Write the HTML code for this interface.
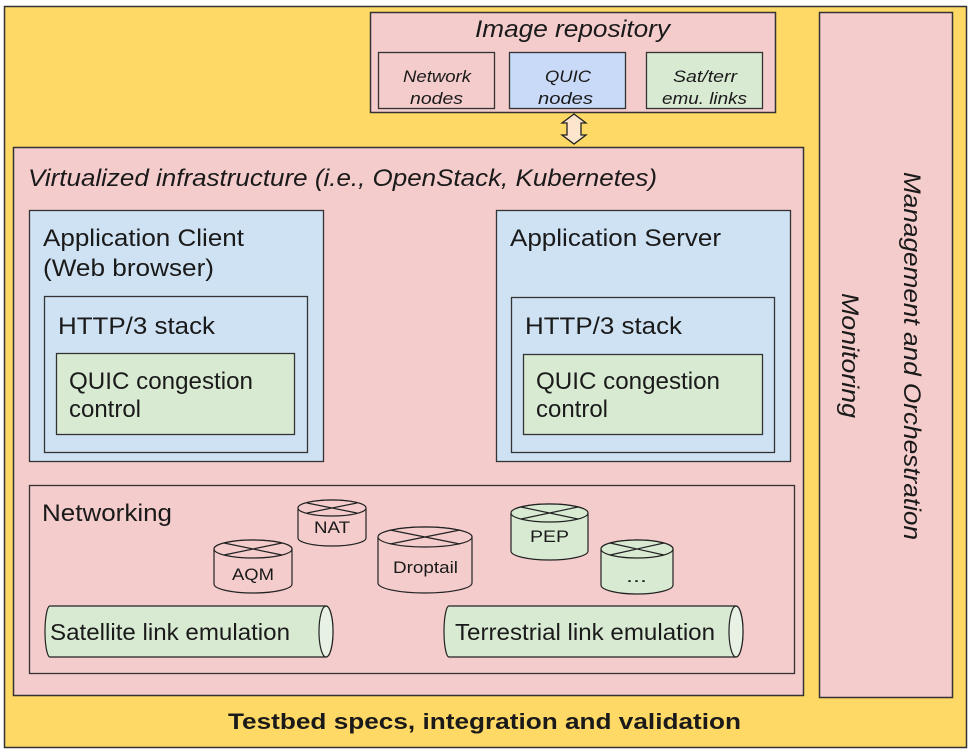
<!DOCTYPE html>
<html><head><meta charset="utf-8"><style>
html,body{margin:0;padding:0;background:#fff;}
svg{display:block;}
text{font-family:"Liberation Sans",Arial,sans-serif;fill:#1a1a1a;}
</style></head><body>
<svg width="970" height="750" viewBox="0 0 970 750" xmlns="http://www.w3.org/2000/svg">
<rect x="0" y="0" width="970" height="750" fill="#fff"/>
<rect x="4.5" y="6.5" width="962" height="741" fill="#ffd966" stroke="#333" stroke-width="1.5"/>
<!-- Management -->
<rect x="819.5" y="12.5" width="133" height="685" fill="#f4cccc" stroke="#333" stroke-width="1.5"/>
<text transform="translate(904,172) rotate(90)" font-size="24" font-style="italic" textLength="368" lengthAdjust="spacingAndGlyphs">Management and Orchestration</text>
<text transform="translate(842,293) rotate(90)" font-size="24" font-style="italic" textLength="125" lengthAdjust="spacingAndGlyphs">Monitoring</text>
<!-- Image repo -->
<rect x="370.5" y="12.5" width="405" height="100" fill="#f4cccc" stroke="#333" stroke-width="1.5"/>
<text x="475" y="37" font-size="24" font-style="italic" textLength="195" lengthAdjust="spacingAndGlyphs">Image repository</text>
<rect x="378.5" y="52.5" width="116" height="56" fill="#f4cccc" stroke="#333" stroke-width="1.3"/>
<rect x="509.5" y="52.5" width="116" height="56" fill="#c9daf8" stroke="#333" stroke-width="1.3"/>
<rect x="646.5" y="52.5" width="116" height="56" fill="#d9ead3" stroke="#333" stroke-width="1.3"/>
<g font-size="17" font-style="italic">
<text x="403" y="82" textLength="68" lengthAdjust="spacingAndGlyphs">Network</text><text x="410" y="104" textLength="53" lengthAdjust="spacingAndGlyphs">nodes</text>
<text x="545" y="82" textLength="46" lengthAdjust="spacingAndGlyphs">QUIC</text><text x="538" y="104" textLength="55" lengthAdjust="spacingAndGlyphs">nodes</text>
<text x="673" y="82" textLength="64" lengthAdjust="spacingAndGlyphs">Sat/terr</text><text x="662" y="104" textLength="85" lengthAdjust="spacingAndGlyphs">emu. links</text>
</g>
<path d="M574,114 L586,123 L581,123 L581,135 L586,135 L574,144 L562,135 L567,135 L567,123 L562,123 Z" fill="#fce5cd" stroke="#222" stroke-width="1.3"/>
<!-- Virtualized -->
<rect x="13.5" y="147.5" width="790" height="548" fill="#f4cccc" stroke="#333" stroke-width="1.5"/>
<text x="28" y="186" font-size="24" font-style="italic" textLength="629" lengthAdjust="spacingAndGlyphs">Virtualized infrastructure (i.e., OpenStack, Kubernetes)</text>
<!-- Client -->
<rect x="29.5" y="210.5" width="294" height="251" fill="#cfe2f3" stroke="#333" stroke-width="1.3"/>
<g font-size="24">
<text x="43" y="246" textLength="201" lengthAdjust="spacingAndGlyphs">Application Client</text>
<text x="43" y="276" textLength="171" lengthAdjust="spacingAndGlyphs">(Web browser)</text>
</g>
<rect x="44.5" y="296.5" width="263" height="156" fill="#cfe2f3" stroke="#333" stroke-width="1.3"/>
<rect x="56.5" y="353.5" width="238" height="81" fill="#d9ead3" stroke="#333" stroke-width="1.3"/>
<g font-size="24">
<text x="58" y="334" textLength="157" lengthAdjust="spacingAndGlyphs">HTTP/3 stack</text>
<text x="69" y="389" textLength="184" lengthAdjust="spacingAndGlyphs">QUIC congestion</text>
<text x="69" y="417" textLength="72" lengthAdjust="spacingAndGlyphs">control</text>
</g>
<!-- Server -->
<rect x="496.5" y="210.5" width="294" height="251" fill="#cfe2f3" stroke="#333" stroke-width="1.3"/>
<rect x="511.5" y="297.5" width="263" height="155" fill="#cfe2f3" stroke="#333" stroke-width="1.3"/>
<rect x="523.5" y="354.5" width="239" height="80" fill="#d9ead3" stroke="#333" stroke-width="1.3"/>
<g font-size="24">
<text x="510" y="246" textLength="211" lengthAdjust="spacingAndGlyphs">Application Server</text>
<text x="525" y="334" textLength="157" lengthAdjust="spacingAndGlyphs">HTTP/3 stack</text>
<text x="536" y="389" textLength="184" lengthAdjust="spacingAndGlyphs">QUIC congestion</text>
<text x="536" y="417" textLength="72" lengthAdjust="spacingAndGlyphs">control</text>
</g>
<!-- Networking -->
<rect x="29.5" y="485.5" width="765" height="188" fill="#f4cccc" stroke="#333" stroke-width="1.3"/>
<text x="42" y="521" font-size="24" textLength="130" lengthAdjust="spacingAndGlyphs">Networking</text>
<g stroke="#222" stroke-width="1.2">
<path d="M214,549 A39,9 0 0 1 292,549 V584 A39,9 0 0 1 214,584 Z" fill="#f4cccc"/>
<ellipse cx="253" cy="549" rx="39" ry="9" fill="#f4cccc"/>
<path d="M224,543 L282,555 M224,555 L282,543" fill="none"/>
<path d="M298,508 A34,8 0 0 1 366,508 V538 A34,8 0 0 1 298,538 Z" fill="#f4cccc"/>
<ellipse cx="332" cy="508" rx="34" ry="8" fill="#f4cccc"/>
<path d="M307,503 L357,513 M307,513 L357,503" fill="none"/>
<path d="M378,537 A47,10 0 0 1 472,537 V583 A47,10 0 0 1 378,583 Z" fill="#f4cccc"/>
<ellipse cx="425" cy="537" rx="47" ry="10" fill="#f4cccc"/>
<path d="M390,530 L460,544 M390,544 L460,530" fill="none"/>
<path d="M511,513 A38.5,9 0 0 1 588,513 V551 A38.5,9 0 0 1 511,551 Z" fill="#d9ead3"/>
<ellipse cx="549.5" cy="513" rx="38.5" ry="9" fill="#d9ead3"/>
<path d="M521,507 L578,519 M521,519 L578,507" fill="none"/>
<path d="M601,549 A36,9 0 0 1 673,549 V585 A36,9 0 0 1 601,585 Z" fill="#d9ead3"/>
<ellipse cx="637" cy="549" rx="36" ry="9" fill="#d9ead3"/>
<path d="M610,543 L664,555 M610,555 L664,543" fill="none"/>
<path d="M50,606 L326,606 A7,25.5 0 0 1 326,657 L50,657 A5,25.5 0 0 1 50,606 Z" fill="#d9ead3"/>
<ellipse cx="326" cy="631.5" rx="7" ry="25.5" fill="#e8f2e4"/>
<path d="M449,606 L736,606 A7,25.5 0 0 1 736,657 L449,657 A5,25.5 0 0 1 449,606 Z" fill="#d9ead3"/>
<ellipse cx="736" cy="631.5" rx="7" ry="25.5" fill="#e8f2e4"/>
</g>
<g font-size="17">
<text x="232" y="580" textLength="42" lengthAdjust="spacingAndGlyphs">AQM</text>
<text x="314" y="533" textLength="36" lengthAdjust="spacingAndGlyphs">NAT</text>
<text x="393" y="573" textLength="65" lengthAdjust="spacingAndGlyphs">Droptail</text>
<text x="530" y="542" textLength="39" lengthAdjust="spacingAndGlyphs">PEP</text>
<text x="626" y="582" textLength="21" lengthAdjust="spacingAndGlyphs">...</text>
</g>
<g font-size="23">
<text x="50" y="640" textLength="240" lengthAdjust="spacingAndGlyphs">Satellite link emulation</text>
<text x="455" y="640" textLength="260" lengthAdjust="spacingAndGlyphs">Terrestrial link emulation</text>
</g>
<text x="228" y="729" font-size="22" font-weight="bold" textLength="513" lengthAdjust="spacingAndGlyphs">Testbed specs, integration and validation</text>
</svg>
</body></html>
